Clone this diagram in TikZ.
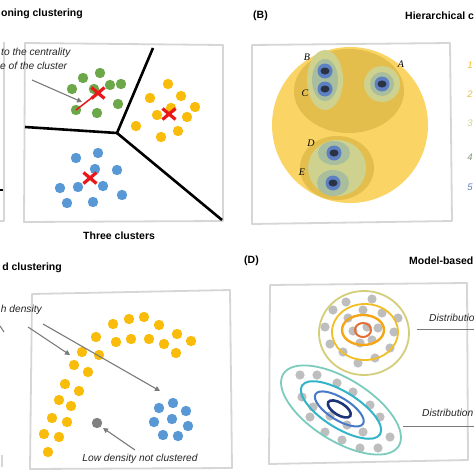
\documentclass[tikz,border=0pt]{standalone}
\usepackage{fontspec}
\setmainfont{Liberation Sans}
\newfontfamily\letterfont{Liberation Serif}
\usetikzlibrary{arrows.meta}

\definecolor{frame}{RGB}{214,214,214}
\definecolor{pointergrey}{RGB}{122,122,122}
\definecolor{dotgreen}{RGB}{108,168,74}
\definecolor{dotyellow}{RGB}{250,188,10}
\definecolor{dotblue}{RGB}{88,152,212}
\definecolor{dotgrey}{RGB}{190,190,190}
\definecolor{crossred}{RGB}{232,24,24}
\definecolor{levelone}{RGB}{250,212,100}
\definecolor{leveltwo}{RGB}{228,190,76}
\definecolor{levelthree}{RGB}{206,210,142}
\definecolor{levelfour}{RGB}{168,190,158}
\definecolor{levelfive}{RGB}{92,128,194}
\definecolor{levelcore}{RGB}{42,50,68}
\definecolor{ringolive}{RGB}{212,206,122}
\definecolor{ringyellow}{RGB}{242,190,38}
\definecolor{ringorange}{RGB}{245,166,22}
\definecolor{ringred}{RGB}{228,110,52}
\definecolor{ringteal}{RGB}{124,204,190}
\definecolor{ringcyan}{RGB}{52,180,200}
\definecolor{ringblue}{RGB}{72,120,200}
\definecolor{ringnavy}{RGB}{30,52,120}

\tikzset{
    panel/.style={draw=frame, line width=1.8pt, line join=round},
    title/.style={font=\fontsize{10.5}{12}\selectfont\bfseries, inner sep=0pt},
    note/.style={font=\fontsize{10.2}{12}\selectfont\itshape, text=black!85, inner sep=0pt},
    letter/.style={font=\fontsize{10}{12}\selectfont\letterfont\itshape, inner sep=0pt},
    level/.style={font=\fontsize{9.5}{11}\selectfont\itshape, inner sep=0pt},
    pointer/.style={draw=pointergrey, line width=1.1pt, -{Triangle[length=5pt,width=5pt]}},
    leader/.style={draw=pointergrey, line width=1pt},
    cut/.style={draw=black, line width=2.6pt},
    centre/.style={draw=crossred, line width=3.2pt},
}

\begin{document}
\begin{tikzpicture}[x=1pt,y=-1pt]
    \useasboundingbox (0,0) rectangle (474,474);
    \fill [white] (0,0) rectangle (474,474);

    % left neighbour panel (cut off)
    \draw 
        [panel] (4,42) -- (4,221) -- (0,221);
    \draw 
        [cut, line width=2pt] (0,190) -- (3,190);
    \draw 
        [panel] (2,455) -- (2,467);

    % (A) partitioning
    \node[title, anchor=east] (titleA) at (83,14) {oning clustering};
    \draw 
        [panel] (25,43) -- (223,45) -- (223,221) -- (24,222) -- cycle;
    \coordinate (hub) at (117,133);
    \draw 
        [cut] (hub) -- (153,48);
    \draw 
        [cut] (hub) -- (25,127);
    \draw 
        [cut] (hub) -- (222,220);
    \foreach \p in {(83,78),(100,73),(72,89),(94,89),(110,85),(121,84),(118,104),(76,110),(97,113)}
        \fill [dotgreen] \p circle (5.2pt);
    \foreach \p in {(168,84),(150,98),(181,96),(195,107),(157,115),(171,108),(187,117),(136,126),(178,131),(161,137)}
        \fill [dotyellow] \p circle (5.2pt);
    \foreach \p in {(98,153),(76,158),(95,169),(117,170),(60,188),(78,187),(103,186),(122,195),(67,203),(93,202)}
        \fill [dotblue] \p circle (5.2pt);
    \coordinate (farpoint) at (76,110);
    \coordinate (centreA) at (98,93);
    \draw 
        [draw=crossred, line width=1.5pt] (farpoint) -- (centreA);
    \foreach \c in {(98,93),(169,114),(90,178)}
        \draw [centre] \c +(-6.5,5.5) -- +(6.5,-5.5) \c +(-6.5,-5.5) -- +(6.5,5.5);
    \node[note, anchor=west] (noteA1) at (1,53) {to the centrality};
    \node[note, anchor=west] (noteA2) at (0,66) {e of the cluster};
    \coordinate (tailA) at (32,80);
    \coordinate (tipA) at (82,102);
    \draw 
        [pointer] (tailA) -- (tipA);
    \node[title, anchor=west] (captionA) at (83,236) {Three clusters};

    % (B) hierarchical
    \node[title, anchor=west] (labelB) at (253,16) {(B)};
    \node[title, anchor=west] (titleB) at (405,16) {Hierarchical c};
    \draw 
        [panel] (252,45) -- (450,43) -- (452,221) -- (252,224) -- cycle;
    \fill [levelone] (350,125) circle (78pt);
    \fill [leveltwo] (349,91) ellipse (55pt and 42pt);
    \fill [leveltwo] (337,168) ellipse (37pt and 32pt);
    \fill [levelthree] (325,80) ellipse (18pt and 30pt);
    \fill [levelthree] (382,84) circle (18pt);
    \fill [levelthree] (337,168) ellipse (29pt and 28pt);
    \fill [levelfour] (325,80) ellipse (13pt and 21pt);
    \fill [levelfour] (382,84) circle (12pt);
    \fill [levelfour] (334,153) ellipse (16pt and 12pt);
    \fill [levelfour] (333,183) ellipse (16pt and 13pt);
    \foreach \p in {(325,71),(325,89),(382,84),(334,153),(333,183)} {
        \fill [levelfive] \p circle (7.5pt);
        \fill [levelcore] \p ellipse (4.5pt and 3.5pt);
    }
    \node[letter] (letterB) at (307,57) {B};
    \node[letter] (letterA) at (401,64) {A};
    \node[letter] (letterC) at (305,93) {C};
    \node[letter] (letterD) at (311,143) {D};
    \node[letter] (letterE) at (302,172) {E};
    \node[level, text=ringyellow] (keyone) at (470,65) {1};
    \node[level, text=leveltwo] (keytwo) at (470,94) {2};
    \node[level, text=levelthree] (keythree) at (470,123) {3};
    \node[level, text=levelfour!80!black] (keyfour) at (470,157) {4};
    \node[level, text=levelfive] (keyfive) at (470,187) {5};

    % (C) density
    \node[title, anchor=east] (titleC) at (62,268) {d clustering};
    \draw 
        [panel] (32,294) -- (230,290) -- (232,468) -- (30,469) -- cycle;
    \foreach \p in {(113,324),(129,319),(144,317),(159,325),(177,334),(191,341),(96,337),(116,342),(131,339),(149,339),(164,344),(176,353),(82,352),(99,355),(74,365),(88,372),(65,384),(79,391),(59,400),(71,406),(52,418),(67,422),(44,434),(59,437),(48,452)}
        \fill [dotyellow] \p circle (5.2pt);
    \foreach \p in {(173,403),(159,408),(186,411),(172,419),(154,422),(188,426),(163,435),(178,436)}
        \fill [dotblue] \p circle (5.2pt);
    \fill [gray] (97,423) circle (5.2pt);
    \node[note, anchor=east] (noteC) at (42,310) {h density};
    \draw 
        [leader, line width=1.1pt] (0,326) -- (4,332);
    \coordinate (tailC1) at (28,327);
    \coordinate (tipC1) at (70,355);
    \coordinate (tailC2) at (43,324);
    \coordinate (tipC2) at (160,391);
    \draw 
        [pointer] (tailC1) -- (tipC1);
    \draw 
        [pointer] (tailC2) -- (tipC2);
    \node[note] (noteLow) at (140,459) {Low density not clustered};
    \coordinate (tailLow) at (135,450);
    \coordinate (tipLow) at (103,428);
    \draw 
        [pointer] (tailLow) -- (tipLow);

    % (D) model-based
    \node[title, anchor=west] (labelD) at (244,261) {(D)};
    \node[title, anchor=west] (titleD) at (409,261) {Model-based};
    \draw 
        [panel] (270,285) -- (467,283) -- (468,460) -- (269,464) -- cycle;
    \foreach \p in {(333,310),(346,302),(372,299),(398,318),(363,310),(382,313),(348,318),(325,327),(353,331),(367,327),(378,328),(394,332),(330,344),(343,352),(360,343),(372,340),(390,348),(375,358),(358,363)}
        \fill [dotgrey] \p circle (4.6pt);
    \foreach \p in {(300,375),(317,375),(337,383),(353,392),(302,397),(370,405),(313,407),(380,417),(310,417),(330,416),(347,425),(363,432),(390,437),(325,432),(342,440),(360,448),(378,448)}
        \fill [dotgrey] \p circle (4.6pt);
    \draw [ringolive, line width=1.8pt] (364,333) ellipse (45pt and 42pt);
    \draw [ringyellow, line width=1.8pt] (365,332) ellipse (33pt and 28pt);
    \draw [ringorange, line width=2.4pt] (363,330) ellipse (21pt and 15pt);
    \draw [ringred, line width=2pt] (363,330) ellipse (8pt and 7pt);
    \begin{scope}[shift={(341,410)}, rotate=-32]
        \draw [ringteal, line width=1.8pt] (0,0) ellipse (68pt and 31pt);
        \draw [ringcyan, line width=2pt] (0,0) ellipse (46pt and 18pt);
        \draw [ringblue, line width=2pt] (-2,0) ellipse (28pt and 11pt);
        \draw [ringnavy, line width=2.6pt] (-2,0) ellipse (13pt and 6pt);
    \end{scope}
    \node[note, anchor=west] (distone) at (429,318) {Distributio};
    \node[note, anchor=west] (disttwo) at (422,413) {Distribution};
    \coordinate (leadone) at (417,329);
    \coordinate (leadtwo) at (403,426);
    \draw 
        [leader] (leadone) -- (474,329);
    \draw 
        [leader] (leadtwo) -- (474,426);
\end{tikzpicture}
\end{document}
